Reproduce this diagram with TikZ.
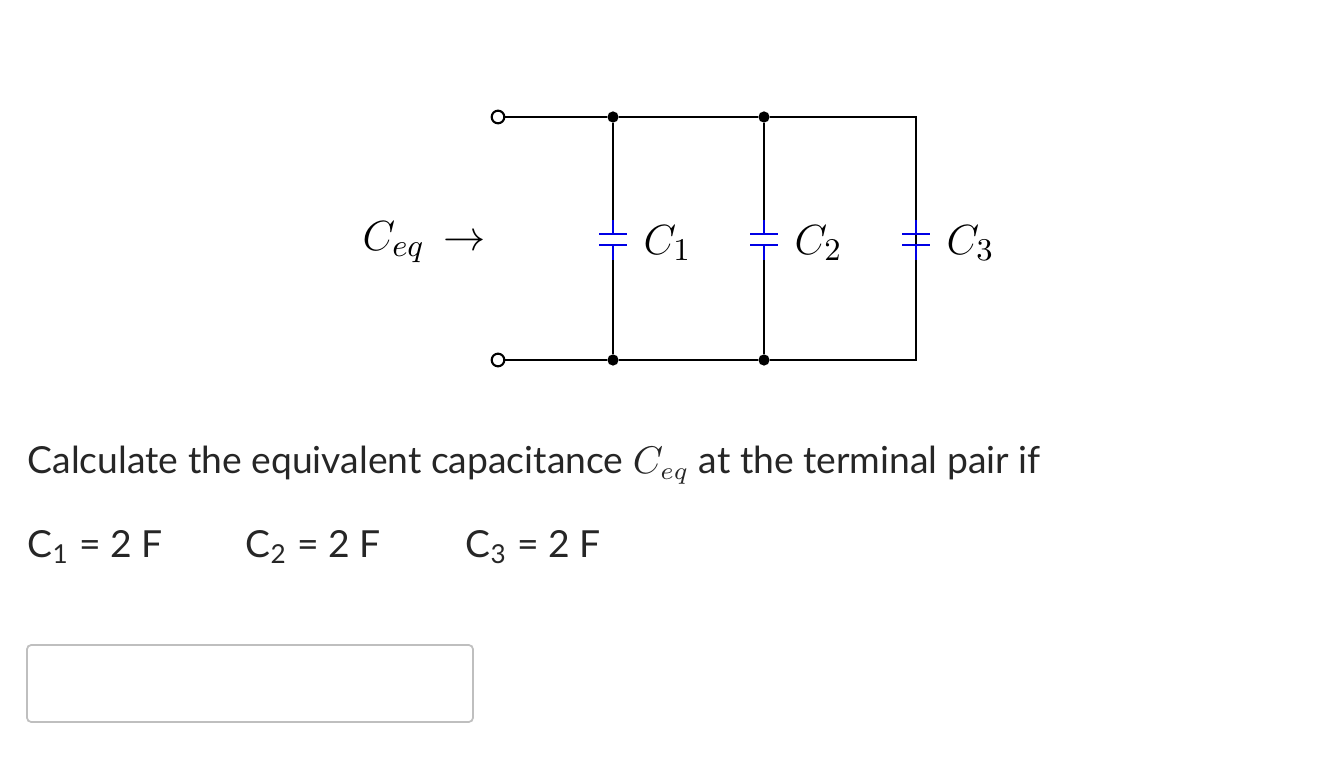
\documentclass[tikz,border=0pt]{standalone}
\usepackage{fontspec}
\setmainfont{Lato}
\begin{document}
\begin{tikzpicture}[x=0.01cm,y=-0.01cm,
  wire/.style={line width=0.75pt,black},
  capline/.style={line width=0.75pt,blue!90!black},
  dot/.style={circle,fill=black,inner sep=0pt,minimum size=3.2pt},
  term/.style={circle,draw=black,fill=white,line width=0.6pt,inner sep=0pt,minimum size=3.6pt},
  lbl/.style={font=\fontsize{12.5}{14}\selectfont,inner sep=0pt,anchor=west},
  txt/.style={font=\fontsize{10.6}{12}\selectfont,inner sep=0pt,anchor=west,text=black!85}]
\useasboundingbox (0,0) rectangle (1318,764);
\node[term] (ta) at (498,117) {};
\node[term] (tb) at (498,360) {};
\node[dot] (a1) at (613,117) {};
\node[dot] (a2) at (764,117) {};
\coordinate (a3) at (916,117);
\node[dot] (b1) at (613,360) {};
\node[dot] (b2) at (764,360) {};
\coordinate (b3) at (916,360);
\draw[wire] (ta) -- (a1) -- (a2) -- (a3) -- (b3) -- (b2) -- (b1) -- (tb);
\foreach \x/\n in {613/1,764/2,916/3}{
  \coordinate (p\n) at (\x,234);
  \coordinate (q\n) at (\x,245);
  \draw[wire] (a\n) -- (\x,220);
  \draw[wire] (b\n) -- (\x,260);
  \draw[capline] (\x,220) -- (p\n) ++(-14,0) -- ++(28,0);
  \draw[capline] (\x,260) -- (q\n) ++(-14,0) -- ++(28,0);
  \node[lbl] (l\n) at (\x+30,243) {$C_{\n}$};
}
\node[lbl] (ceq) at (362,242) {$C_{eq}\,\rightarrow$};
\node[txt] (t1) at (27,465) {Calculate the equivalent capacitance $C_{eq}$ at the terminal pair if};
\node[txt] (t2) at (27,547) {C\textsubscript{1} = 2 F};
\node[txt] (t3) at (245,547) {C\textsubscript{2} = 2 F};
\node[txt] (t4) at (465,547) {C\textsubscript{3} = 2 F};
\draw[black!25,line width=0.5pt,rounded corners=1.2pt] (27,645) rectangle (473,722);
\end{tikzpicture}
\end{document}
